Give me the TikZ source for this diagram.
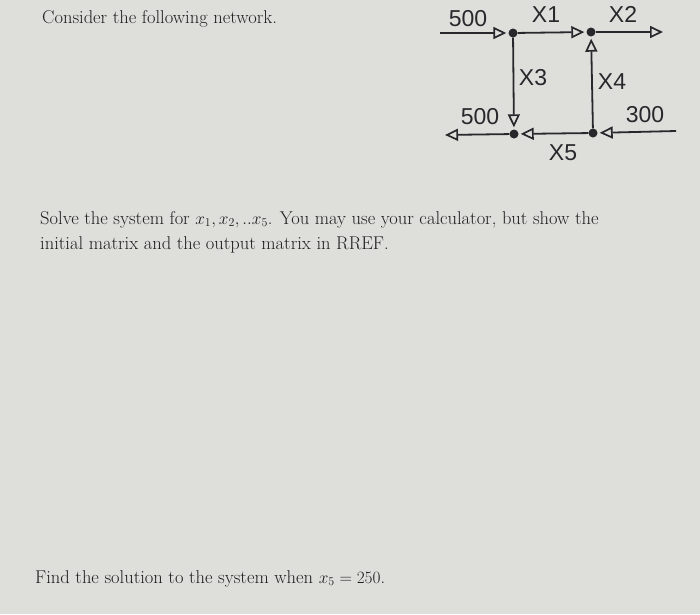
\documentclass[tikz,border=0pt]{standalone}
\usepackage{fontspec}
\newfontfamily\hand{Liberation Sans}
\usetikzlibrary{arrows.meta}
\definecolor{paper}{RGB}{222,222,219}
\definecolor{ink}{RGB}{40,40,44}
\tikzset{
  txt/.style={anchor=base west, inner sep=0pt, text=black!88, font=\fontsize{18.5}{22}\selectfont},
  lbl/.style={inner sep=0pt, text=ink, font=\hand\fontsize{23}{24}\selectfont},
  dot/.style={circle, fill=ink, inner sep=0pt, minimum size=9pt},
  flow/.style={draw=ink, line width=1.8pt, shorten >=2pt, -{Triangle[open, length=13pt, width=12pt, line width=1.7pt]}},
}
\begin{document}
\begin{tikzpicture}[x=1pt, y=-1pt]
\fill[paper] (0,0) rectangle (700,614);
\useasboundingbox (0,0) rectangle (700,614);

\node[txt] (t1) at (42,23) {Consider the following network.};
\node[txt] (t2) at (40,224) {Solve the system for $x_1, x_2, ..x_5$. You may use your calculator, but show the};
\node[txt] (t3) at (40,249) {initial matrix and the output matrix in RREF.};
\node[txt] (t4) at (35,583) {Find the solution to the system when $x_5 = 250$.};

% network nodes
\node[dot] (A) at (513,33) {};
\node[dot] (B) at (591,32) {};
\node[dot] (C) at (514,134) {};
\node[dot] (D) at (593,133) {};
\coordinate (inA) at (440,33);
\coordinate (outB) at (665,32);
\coordinate (inD) at (676,131);
\coordinate (outC) at (443,135);

\draw[flow] (inA) -- (A);
\draw[flow] (A) -- (B);
\draw[flow] (B) -- (outB);
\draw[flow] (A) -- (C);
\draw[flow] (D) -- (B);
\draw[flow] (inD) -- (D);
\draw[flow] (D) -- (C);
\draw[flow] (C) -- (outC);

\node[lbl] (l500a) at (468,19) {500};
\node[lbl] (lx1) at (546,15) {X1};
\node[lbl] (lx2) at (623,14) {X2};
\node[lbl] (lx3) at (533,78) {X3};
\node[lbl] (lx4) at (612,82) {X4};
\node[lbl] (l500b) at (480,117) {500};
\node[lbl] (l300) at (645,115) {300};
\node[lbl] (lx5) at (563,153) {X5};
\end{tikzpicture}
\end{document}
